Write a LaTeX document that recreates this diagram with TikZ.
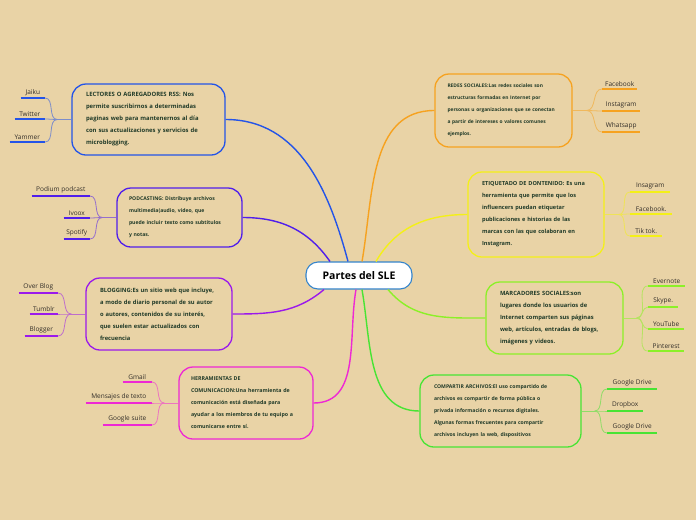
\documentclass[tikz,border=0pt]{standalone}
\usepackage{fontspec}
\setmainfont{Open Sans}
\usetikzlibrary{positioning}
\definecolor{bgtan}{RGB}{233,211,166}
\definecolor{slecen}{RGB}{52,132,204}
\definecolor{slelect}{RGB}{36,84,232}
\definecolor{slepod}{RGB}{80,30,235}
\definecolor{sleblog}{RGB}{155,25,235}
\definecolor{sleherr}{RGB}{238,40,212}
\definecolor{sleredes}{RGB}{246,162,32}
\definecolor{sleetiq}{RGB}{244,240,24}
\definecolor{slemarc}{RGB}{140,240,40}
\definecolor{slecomp}{RGB}{72,228,52}
\definecolor{sletext}{RGB}{32,58,40}
\definecolor{sleleaf}{RGB}{50,45,40}
\tikzset{
  cenbox/.style={draw=slecen, line width=1.1pt, fill=white, rounded corners=12pt, minimum width=106pt, minimum height=27pt, font=\fontsize{10.5}{11}\selectfont\bfseries, text=black},
  mainbox/.style={draw=#1, line width=1.3pt, rounded corners=14pt, text=sletext, align=left, inner xsep=14pt, inner ysep=0pt},
  boxfont/.style={font=\fontsize{#1}{12}\selectfont\bfseries},
  leaf/.style={font=\fontsize{6.5}{8}\selectfont, text=sleleaf, inner xsep=0pt, inner ysep=2.5pt,
    append after command={(\tikzlastnode.south west) edge[draw=#1, line width=1.8pt] (\tikzlastnode.south east)}},
  leafL/.style={leaf=#1, anchor=south east},
  leafR/.style={leaf=#1, anchor=south west},
  mainline/.style={draw=#1, line width=1.4pt},
  leafline/.style={draw=#1!55!bgtan, line width=0.8pt},
}
\begin{document}
\begin{tikzpicture}[x=1pt, y=-1pt]
  % Background
  \fill[bgtan] (0,0) rectangle (696,520);
  \useasboundingbox (0,0) rectangle (696,520);

  % Centre
  \node[cenbox] (cen) at (359,275.5) {Partes del SLE};

  % Left branches
  \node[mainbox=slelect, boxfont=5.9, text width=125pt, minimum height=71pt] (lect) at (148.5,119.5) {LECTORES O AGREGADORES RSS: Nos\\permite suscribirnos a determinadas\\paginas web para mantenernos al día\\con sus actualizaciones y servicios de\\microblogging.};
  \node[mainbox=slepod, boxfont=5.1, text width=101pt, inner xsep=12pt, minimum height=59pt] (pod) at (179.5,217.5) {PODCASTING: Distribuye archivos\\multimedia(audio, video, que\\puede incluir texto como subtitulos\\y notas.};
  \node[mainbox=sleblog, boxfont=5.8, text width=118pt, minimum height=72pt] (blog) at (159,314) {BLOGGING:Es un sitio web que incluye,\\a modo de diario personal de su autor\\o autores, contenidos de su interés,\\que suelen estar actualizados con\\frecuencia};
  \node[mainbox=sleherr, boxfont=5.3, text width=110pt, inner xsep=12pt, minimum height=72pt] (herr) at (246,403) {HERRAMIENTAS DE\\COMUNICACION:Una herramienta de\\comunicación está diseñada para\\ayudar a los miembros de tu equipo a\\comunicarse entre sí.};

  % Right branches
  \node[mainbox=sleredes, boxfont=4.9, text width=112pt, inner xsep=12.5pt, minimum height=73pt] (redes) at (503.5,110.5) {REDES SOCIALES:Las redes sociales son\\estructuras formadas en Internet por\\personas u organizaciones que se conectan\\a partir de intereses o valores comunes\\ejemplos.};
  \node[mainbox=sleetiq, boxfont=5.6, text width=108pt, minimum height=85pt] (etiq) at (536,214.5) {ETIQUETADO DE DONTENIDO: Es una\\herramienta que permite que los\\influencers puedan etiquetar\\publicaciones e historias de las\\marcas con las que colaboran en\\Instagram.};
  \node[mainbox=slemarc, boxfont=5.8, text width=109pt, minimum height=72pt] (marc) at (554.5,318) {MARCADORES SOCIALES:son\\lugares donde los usuarios de\\Internet comparten sus páginas\\web, artículos, entradas de blogs,\\imágenes y videos.};
  \node[mainbox=slecomp, boxfont=5.1, text width=133pt, minimum height=72pt] (comp) at (500.5,411) {COMPARTIR ARCHIVOS:El uso compartido de\\archivos es compartir de forma pública o\\privada información o recursos digitales.\\Algunas formas frecuentes para compartir\\archivos incluyen la web, dispositivos};

  % Centre to branches
  \draw[mainline=slelect] ([xshift=-11pt]cen.north) to[out=105,in=0] (lect.east);
  \draw[mainline=slepod] ([xshift=-29pt]cen.north) to[out=125,in=0] (pod.east);
  \draw[mainline=sleblog] ([xshift=-35pt]cen.south) to[out=220,in=0] (blog.east);
  \draw[mainline=sleherr] ([xshift=-3pt]cen.south) to[out=260,in=0] (herr.east);
  \draw[mainline=sleredes] ([xshift=3pt]cen.north) to[out=80,in=180] (redes.west);
  \draw[mainline=sleetiq] ([xshift=17pt]cen.north) to[out=60,in=180] (etiq.west);
  \draw[mainline=slemarc] ([xshift=29pt]cen.south) to[out=-50,in=180] (marc.west);
  \draw[mainline=slecomp] ([xshift=3pt]cen.south) to[out=-80,in=180] (comp.west);

  % Leaves: lectores
  \node[leafL=slelect, minimum width=24pt] (jaiku) at (45,98) {Jaiku};
  \node[leafL=slelect, minimum width=30pt] (twitter) at (45,119) {Twitter};
  \node[leafL=slelect, minimum width=35pt] (yammer) at (45,142) {Yammer};
  \coordinate (lectj) at ([xshift=-14pt]lect.west);
  \draw[leafline=slelect] (lect.west) -- (lectj);
  \foreach \l in {jaiku,twitter,yammer}
    \draw[leafline=slelect] (lectj) to[out=180,in=0] (\l.south east);

  % Leaves: podcasting
  \node[leafL=slepod, minimum width=58pt] (podium) at (90,196) {Podium podcast};
  \node[leafL=slepod, minimum width=26pt] (ivoox) at (90,218) {Ivoox};
  \node[leafL=slepod, minimum width=26pt] (spotify) at (90,239) {Spotify};
  \coordinate (podj) at ([xshift=-14pt]pod.west);
  \draw[leafline=slepod] (pod.west) -- (podj);
  \foreach \l in {podium,ivoox,spotify}
    \draw[leafline=slepod] (podj) to[out=180,in=0] (\l.south east);

  % Leaves: blogging
  \node[leafL=sleblog, minimum width=39pt] (overblog) at (58,293) {Over Blog};
  \node[leafL=sleblog, minimum width=28pt] (tumblr) at (58,314) {Tumblr};
  \node[leafL=sleblog, minimum width=33pt] (blogger) at (58,336) {Blogger};
  \coordinate (blogj) at ([xshift=-14pt]blog.west);
  \draw[leafline=sleblog] (blog.west) -- (blogj);
  \foreach \l in {overblog,tumblr,blogger}
    \draw[leafline=sleblog] (blogj) to[out=180,in=0] (\l.south east);

  % Leaves: herramientas
  \node[leafL=sleherr, minimum width=29pt] (gmail) at (152,382) {Gmail};
  \node[leafL=sleherr, minimum width=66pt] (mensajes) at (152,403) {Mensajes de texto};
  \node[leafL=sleherr, minimum width=49pt] (gsuite) at (152,425) {Google suite};
  \coordinate (herrj) at ([xshift=-14pt]herr.west);
  \draw[leafline=sleherr] (herr.west) -- (herrj);
  \foreach \l in {gmail,mensajes,gsuite}
    \draw[leafline=sleherr] (herrj) to[out=180,in=0] (\l.south east);

  % Leaves: redes sociales
  \node[leafR=sleredes, minimum width=35pt] (facebook) at (602,89) {Facebook};
  \node[leafR=sleredes, minimum width=38pt] (instagram) at (602,111) {Instagram};
  \node[leafR=sleredes, minimum width=38pt] (whatsapp) at (602,132) {Whatsapp};
  \coordinate (redesj) at ([xshift=14pt]redes.east);
  \draw[leafline=sleredes] (redes.east) -- (redesj);
  \foreach \l in {facebook,instagram,whatsapp}
    \draw[leafline=sleredes] (redesj) to[out=0,in=180] (\l.south west);

  % Leaves: etiquetado
  \node[leafR=sleetiq, minimum width=40pt] (insagram) at (630,192) {Insagram};
  \node[leafR=sleetiq, minimum width=42pt] (facebookb) at (630,214) {Facebook.};
  \node[leafR=sleetiq, minimum width=32pt] (tiktok) at (630,236) {Tik tok.};
  \coordinate (etiqj) at ([xshift=14pt]etiq.east);
  \draw[leafline=sleetiq] (etiq.east) -- (etiqj);
  \foreach \l in {insagram,facebookb,tiktok}
    \draw[leafline=sleetiq] (etiqj) to[out=0,in=180] (\l.south west);

  % Leaves: marcadores
  \node[leafR=slemarc, minimum width=37pt] (evernote) at (648,286) {Evernote};
  \node[leafR=slemarc, minimum width=30pt] (skype) at (648,307) {Skype.};
  \node[leafR=slemarc, minimum width=36pt] (youtube) at (648,329) {YouTube};
  \node[leafR=slemarc, minimum width=36pt] (pinterest) at (648,351) {Pinterest};
  \coordinate (marcj) at ([xshift=13pt]marc.east);
  \draw[leafline=slemarc] (marc.east) -- (marcj);
  \foreach \l in {evernote,skype,youtube,pinterest}
    \draw[leafline=slemarc] (marcj) to[out=0,in=180] (\l.south west);

  % Leaves: compartir
  \node[leafR=slecomp, minimum width=50pt] (gdrive) at (607,389) {Google Drive};
  \node[leafR=slecomp, minimum width=36pt] (dropbox) at (607,411) {Dropbox};
  \node[leafR=slecomp, minimum width=50pt] (gdriveb) at (607,433) {Google Drive};
  \coordinate (compj) at ([xshift=13pt]comp.east);
  \draw[leafline=slecomp] (comp.east) -- (compj);
  \foreach \l in {gdrive,dropbox,gdriveb}
    \draw[leafline=slecomp] (compj) to[out=0,in=180] (\l.south west);
\end{tikzpicture}
\end{document}
